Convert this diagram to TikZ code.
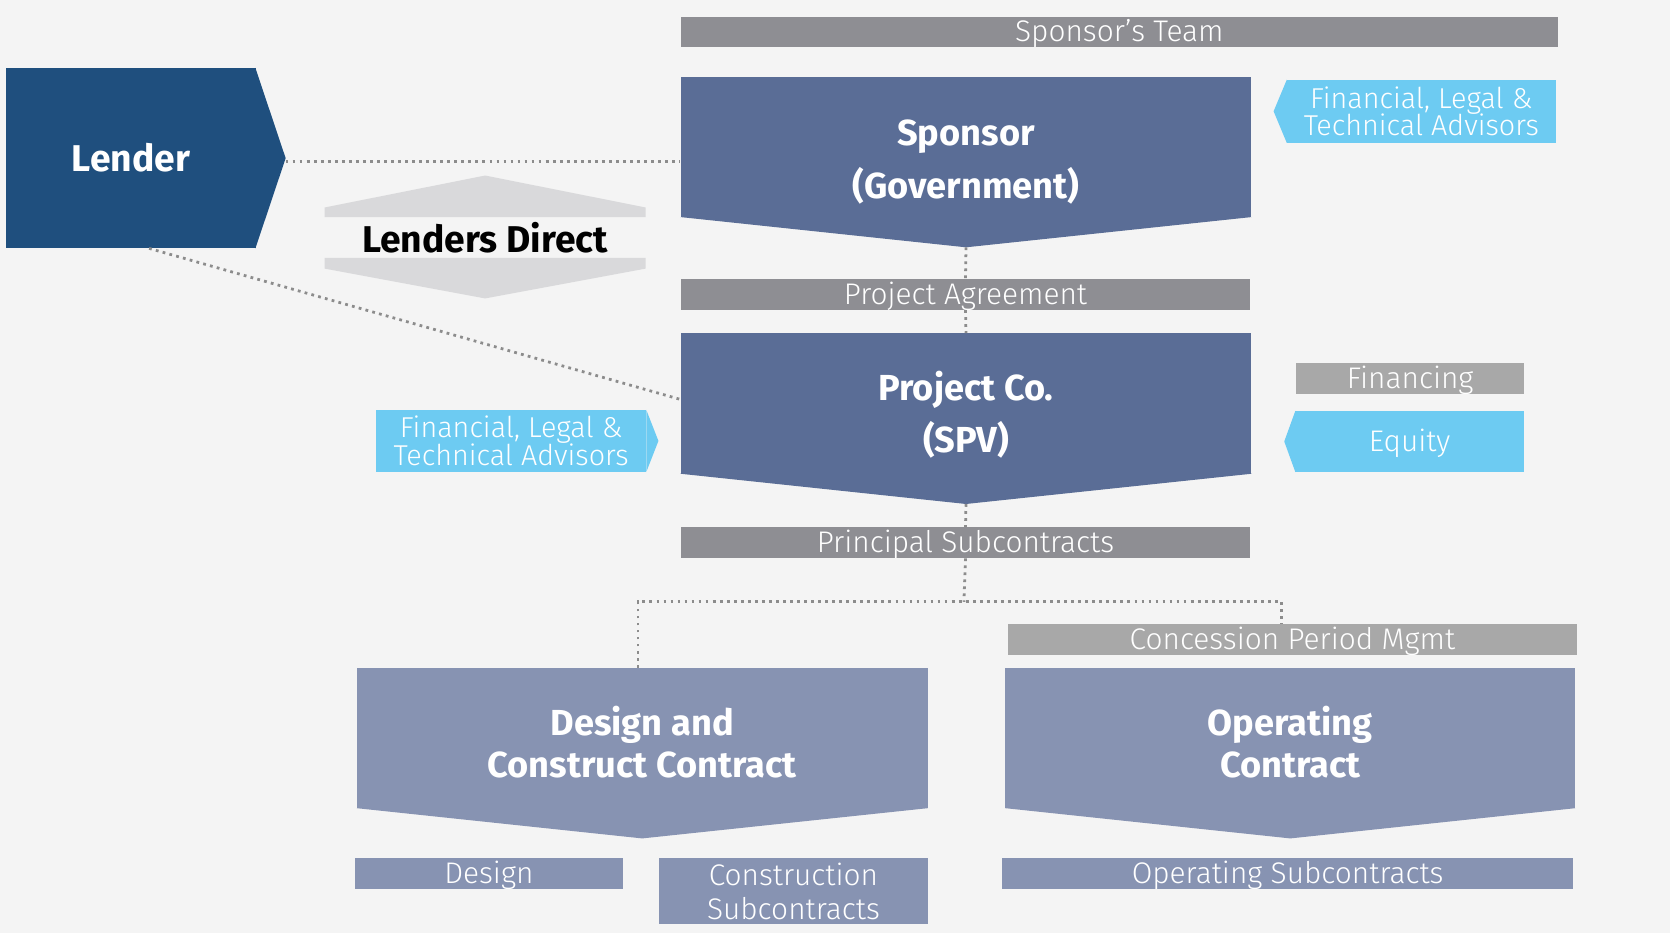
\documentclass[tikz,border=0pt]{standalone}
\usepackage{fontspec}
\setmainfont{Fira Sans}[UprightFont=* Light, BoldFont=* Bold]
\usepackage{tikz}
\definecolor{bg}{HTML}{F4F4F4}
\definecolor{bargray}{HTML}{8E8E93}
\definecolor{lightbar}{HTML}{A8A8A8}
\definecolor{lenderblue}{HTML}{1F4F7E}
\definecolor{sponsorblue}{HTML}{5A6D96}
\definecolor{contractblue}{HTML}{8793B2}
\definecolor{advblue}{HTML}{6DCBF2}
\definecolor{ldgray}{HTML}{D9D9DB}
\definecolor{dotgray}{HTML}{8C8C8C}

\begin{document}
\begin{tikzpicture}[x=1pt, y=-1pt,
    every node/.style={inner sep=0pt, align=center},
    bar/.style={fill=#1, text=white, minimum height=29pt, text height=21pt, text depth=3pt, font=\fontsize{28}{26}\selectfont},
    bar/.default=bargray,
    twoline/.style={text height={}, text depth={}, font=\fontsize{27}{26}\selectfont},
    box/.style={fill=#1, text=white, minimum width=536pt, minimum height=132pt, font=\bfseries\fontsize{34}{50}\selectfont},
    link/.style={draw=dotgray, line width=2.6pt, dash pattern=on 2.6pt off 4pt}]
    \fill[bg] (0,0) rectangle (1568,876);

    \node[bar, minimum width=824pt] (team) at (1051,30) {Sponsor’s Team};

    \node[fill=lenderblue, text=white, minimum width=234pt, minimum height=169pt, font=\bfseries\fontsize{35}{40}\selectfont] (lender) at (123,148.5) {Lender};
    \coordinate (lendertip) at ([xshift=28pt]lender.east);
    \fill[lenderblue] ([xshift=-0.4pt]lender.north east) -- (lendertip) -- ([xshift=-0.4pt]lender.south east) -- cycle;

    \node[minimum width=301pt, minimum height=38pt, font=\bfseries\fontsize{35}{40}\selectfont] (ld) at (455.5,223) {Lenders Direct};
    \fill[ldgray] (ld.north west) -- ([yshift=9pt]ld.north west) -- ([yshift=39pt]ld.north) -- ([yshift=9pt]ld.north east) -- (ld.north east) -- cycle;
    \fill[ldgray] (ld.south west) -- ([yshift=-10pt]ld.south west) -- ([yshift=-38pt]ld.south) -- ([yshift=-10pt]ld.south east) -- (ld.south east) -- cycle;

    \node[box=sponsorblue, text height=102pt] (sponsor) at (907,138) {Sponsor\\(Government)};
    \node[bar, minimum width=535pt] (pa) at (906.5,276.5) {Project Agreement};
    \node[box=sponsorblue, text height=97pt, font=\bfseries\fontsize{34}{49}\selectfont] (spv) at (907,379) {Project Co.\\(SPV)};
    \node[bar, minimum width=535pt] (ps) at (906.5,509.5) {Principal Subcontracts};

    \node[bar=advblue, twoline, minimum width=253pt, minimum height=59pt] (adv1) at (1334.5,104.5) {Financial, Legal \&\\Technical Advisors};
    \fill[advblue] ([xshift=0.4pt]adv1.north west) -- ([xshift=-12pt]adv1.west) -- ([xshift=0.4pt]adv1.south west) -- cycle;
    \node[bar=advblue, twoline, minimum width=254pt, minimum height=58pt] (adv2) at (480,414) {Financial, Legal \&\\Technical Advisors};
    \fill[advblue] ([xshift=-0.4pt]adv2.north east) -- ([xshift=11pt]adv2.east) -- ([xshift=-0.4pt]adv2.south east) -- cycle;
    \node[bar=lightbar, minimum width=214pt] (fin) at (1324,355.5) {Financing};
    \node[bar=advblue, minimum width=215pt, minimum height=57pt] (equity) at (1323.5,414.5) {Equity};
    \fill[advblue] ([xshift=0.4pt]equity.north west) -- ([xshift=-10pt]equity.west) -- ([xshift=0.4pt]equity.south west) -- cycle;

    \node[bar=lightbar, minimum width=535pt] (cpm) at (1213.5,600.5) {Concession Period Mgmt};
    \node[box=contractblue, text height=74pt, font=\bfseries\fontsize{34}{39}\selectfont] (dc) at (603,693) {Design and\\Construct Contract};
    \node[box=contractblue, text height=74pt, minimum width=535pt, font=\bfseries\fontsize{34}{39}\selectfont] (op) at (1211.5,693) {Operating\\Contract};

    \foreach \n/\c in {sponsor/sponsorblue, spv/sponsorblue, dc/contractblue, op/contractblue} {
        \coordinate (\n tip) at ([yshift=-28pt]\n.south);
        \fill[\c] ([yshift=0.4pt]\n.south west) -- ([yshift=0.4pt]\n.south east) -- (\n tip) -- cycle;
    }

    \node[bar=contractblue, minimum width=252pt] (design) at (459,820.5) {Design};
    \node[bar=contractblue, twoline, minimum width=252pt, minimum height=62pt, font=\fontsize{28}{32}\selectfont] (cs) at (745,837) {Construction\\Subcontracts};
    \node[bar=contractblue, minimum width=536pt] (os) at (1209,820.5) {Operating Subcontracts};

    \coordinate (fork) at (905,565);
    \draw[link] ([yshift=-3pt]lendertip) -- ([yshift=-3pt]lendertip -| sponsor.west);
    \draw[link] ([xshift=17pt]lender.south) -- ([yshift=4pt]spv.west);
    \draw[link] (sponsortip) -- (pa.north);
    \draw[link] (pa.south) -- (spv.north);
    \draw[link] (spvtip) -- (ps.north);
    \draw[link] (ps.south) -- (fork);
    \draw[link] ([xshift=-4pt]dc.north) |- (fork) -| ([xshift=-10pt]cpm.north);
\end{tikzpicture}
\end{document}
